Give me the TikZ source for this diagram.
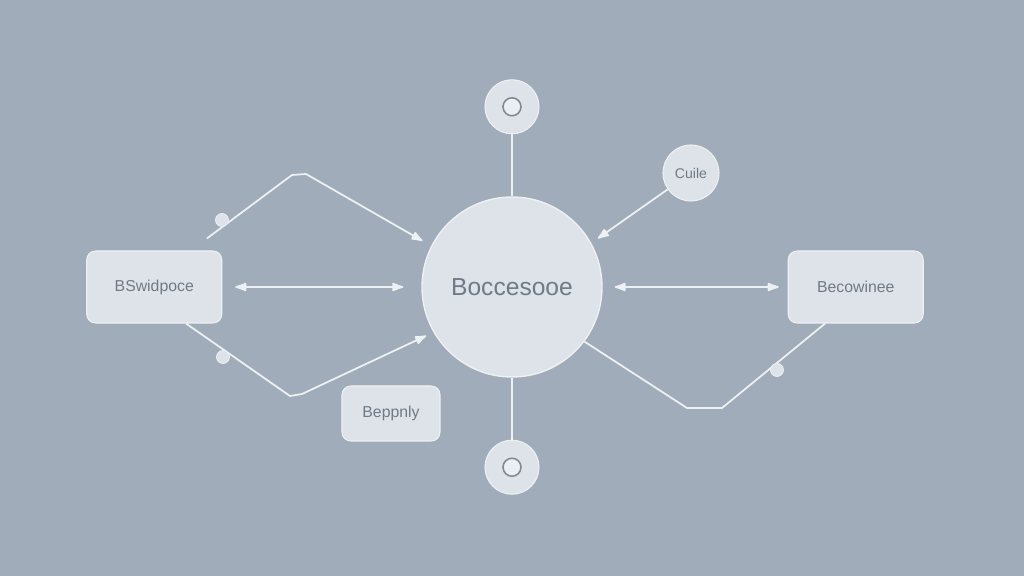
\documentclass[tikz,border=0pt]{standalone}
\usepackage{fontspec}
\setmainfont{Liberation Sans}
\usepackage{tikz}
\usetikzlibrary{arrows.meta,shapes,positioning}

\definecolor{bgc}{RGB}{160,172,185}
\definecolor{nodec}{RGB}{222,227,233}
\definecolor{edgec}{RGB}{238,241,244}
\definecolor{textc}{RGB}{112,122,134}
\definecolor{ringc}{RGB}{128,138,150}

\begin{document}
\begin{tikzpicture}
		[>={Latex[round,length=8pt,width=5.5pt]},
		hub/.style={draw=edgec,fill=nodec,circle,line width=0.8pt,minimum size=3.6cm,text=textc,font=\fontsize{14}{16}\selectfont},
		spoke/.style={draw=edgec,fill=nodec,circle,line width=0.6pt,minimum size=1.08cm,inner sep=0pt},
		ring/.style={draw=ringc,fill=nodec!60!white,circle,line width=0.9pt,minimum size=0.36cm,inner sep=0pt},
		box/.style={draw=edgec,fill=nodec,rectangle,rounded corners=5pt,line width=0.6pt,minimum width=2.7cm,minimum height=1.44cm,text=textc,font=\fontsize{9}{11}\selectfont},
		dot/.style={fill=nodec,draw=edgec,circle,minimum size=0.26cm,inner sep=0pt},
		link/.style={draw=edgec,line width=1pt}]

			\fill[bgc] (-10.24,-5.78) rectangle (10.24,5.74);
			\useasboundingbox (-10.24,-5.78) rectangle (10.24,5.74);

			\node[hub](core) at (0,0) {Boccesooe};
			\node[spoke, above=1.24cm of core](top) {};
			\node[spoke, below=1.24cm of core](bottom) {};
			\node[ring](topring) at (top) {};
			\node[ring](bottomring) at (bottom) {};
			\node[spoke, minimum size=1.12cm, text=textc, font=\fontsize{8}{10}\selectfont](cuile) at (3.58,2.28) {Cuile};
			\node[box, left=3.98cm of core](lbox) {BSwidpoce};
			\node[box, right=3.7cm of core](rbox) {Becowinee};
			\node[box, minimum width=1.96cm, minimum height=1.1cm](sbox) at (-2.42,-2.53) {Beppnly};

			\coordinate (ul1) at (-4.4,2.24);
			\coordinate (ul2) at (-4.12,2.26);
			\coordinate (ll1) at (-4.44,-2.18);
			\coordinate (ll2) at (-4.2,-2.14);
			\coordinate (lr1) at (3.5,-2.42);
			\coordinate (lr2) at (4.2,-2.42);

			\path
			(top) edge[link] (core)
			(core) edge[link] (bottom)
			(lbox) edge[link, <->, shorten <=0.26cm, shorten >=0.36cm] (core)
			(core) edge[link, <->, shorten <=0.24cm, shorten >=0.18cm] (rbox)
			(cuile) edge[link, ->, shorten >=0.16cm] (core.29);

			\draw[link, ->, shorten <=0.4cm, shorten >=0.2cm] (lbox.45) -- (ul1) -- (ul2) -- (core.153);
			\draw[link, ->, shorten >=0.16cm] (lbox.-49) -- (ll1) -- (ll2) -- (core.-150);
			\draw[link] (core.-37) -- (lr1) -- (lr2) -- (rbox.-130);

			\node[dot](uldot) at (-5.8,1.34) {};
			\node[dot](lldot) at (-5.78,-1.4) {};
			\node[dot](lrdot) at (5.3,-1.66) {};

	\end{tikzpicture}
\end{document}
